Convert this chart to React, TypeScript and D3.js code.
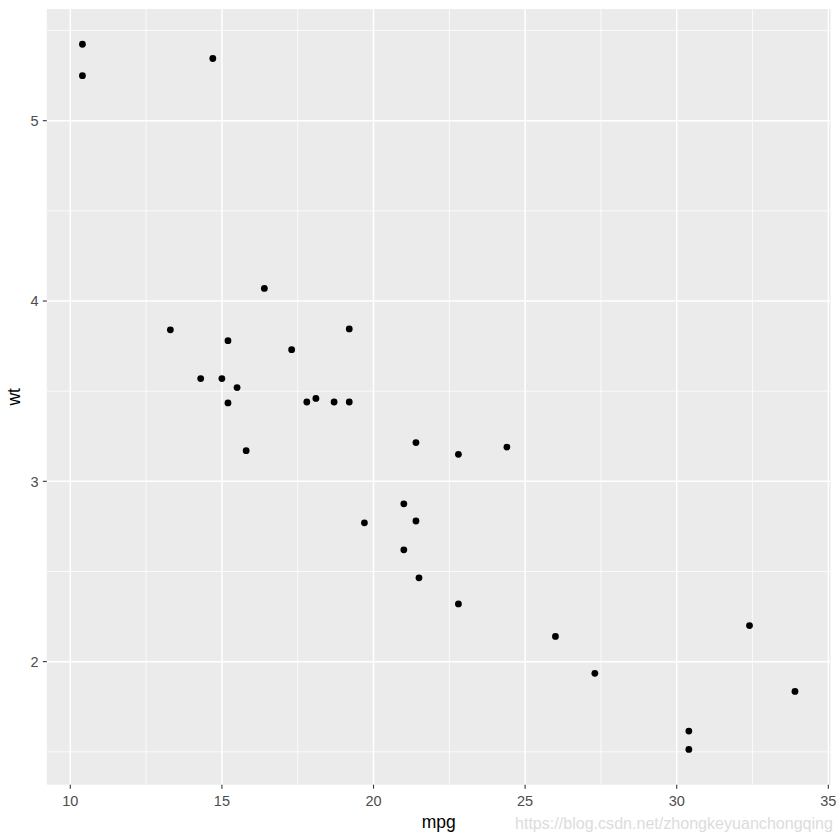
import { useRef, useEffect } from "react";
import * as d3 from "d3";

const mpg = [21.0, 21.0, 22.8, 21.4, 18.7, 18.1, 14.3, 24.4, 22.8, 19.2, 17.8, 16.4, 17.3, 15.2, 10.4, 10.4,
    14.7, 32.4, 30.4, 33.9, 21.5, 15.5, 15.2, 13.3, 19.2, 27.3, 26.0, 30.4, 15.8, 19.7, 15.0, 21.4];
const wt = [2.620, 2.875, 2.320, 3.215, 3.440, 3.460, 3.570, 3.190, 3.150, 3.440, 3.440, 4.070, 3.730, 3.780,
    5.250, 5.424, 5.345, 2.200, 1.615, 1.835, 2.465, 3.520, 3.435, 3.840, 3.845, 1.935, 2.140, 1.513, 3.170,
    2.770, 3.570, 2.780];

const x_ticks = [10, 15, 20, 25, 30, 35];
const x_minor = [12.5, 17.5, 22.5, 27.5, 32.5];
const y_ticks = [2, 3, 4, 5];
const y_minor = [1.5, 2.5, 3.5, 4.5, 5.5];

const svg_width = 840;
const svg_height = 840;
const panel = { left: 46.8, right: 830.6, top: 9, bottom: 784.7 };

const expand = (v: number[]): [number, number] => {
    const [lo, hi] = d3.extent(v) as [number, number];
    const pad = (hi - lo) * 0.05;
    return [lo - pad, hi + pad];
};

export default function App() {
    const ref = useRef(null);

    useEffect(() => {
        document.body.style.margin = "0";
        const destroy = () => {
            d3.select(ref.current).selectAll("*").remove();
        };

        const x = d3.scaleLinear().domain(expand(mpg)).range([panel.left, panel.right]);
        const y = d3.scaleLinear().domain(expand(wt)).range([panel.bottom, panel.top]);

        const svg = d3.select(ref.current)
            .append("svg")
                .attr("width", svg_width)
                .attr("height", svg_height)
                .style("display", "block")
                .style("background-color", "white")
                .style("font-family", "'Liberation Sans', Arial, sans-serif");

        svg.append("rect")
            .attr("x", panel.left)
            .attr("y", panel.top)
            .attr("width", panel.right - panel.left)
            .attr("height", panel.bottom - panel.top)
            .attr("fill", "#EBEBEB");

        const grid = svg.append("g").attr("stroke", "white").attr("fill", "none");

        grid.selectAll(".xminor").data(x_minor).join("line")
            .attr("x1", d => x(d)).attr("x2", d => x(d))
            .attr("y1", panel.top).attr("y2", panel.bottom)
            .attr("stroke-width", 0.75);
        grid.selectAll(".yminor").data(y_minor).join("line")
            .attr("y1", d => y(d)).attr("y2", d => y(d))
            .attr("x1", panel.left).attr("x2", panel.right)
            .attr("stroke-width", 0.75);
        grid.selectAll(".xmajor").data(x_ticks).join("line")
            .attr("x1", d => x(d)).attr("x2", d => x(d))
            .attr("y1", panel.top).attr("y2", panel.bottom)
            .attr("stroke-width", 1.5);
        grid.selectAll(".ymajor").data(y_ticks).join("line")
            .attr("y1", d => y(d)).attr("y2", d => y(d))
            .attr("x1", panel.left).attr("x2", panel.right)
            .attr("stroke-width", 1.5);

        svg.append("g")
            .selectAll("circle")
            .data(mpg.map((m, i) => [m, wt[i]]))
            .join("circle")
                .attr("cx", d => x(d[0]))
                .attr("cy", d => y(d[1]))
                .attr("r", 3.4)
                .attr("fill", "black");

        // axes
        const xAxis = svg.append("g");
        xAxis.selectAll("line").data(x_ticks).join("line")
            .attr("x1", d => x(d)).attr("x2", d => x(d))
            .attr("y1", panel.bottom).attr("y2", panel.bottom + 4)
            .attr("stroke", "#333333").attr("stroke-width", 1.1);
        xAxis.selectAll("text").data(x_ticks).join("text")
            .attr("x", d => x(d))
            .attr("y", 806)
            .attr("text-anchor", "middle")
            .attr("font-size", 14.5)
            .attr("fill", "#4D4D4D")
            .text(d => d);

        const yAxis = svg.append("g");
        yAxis.selectAll("line").data(y_ticks).join("line")
            .attr("y1", d => y(d)).attr("y2", d => y(d))
            .attr("x1", panel.left - 4).attr("x2", panel.left)
            .attr("stroke", "#333333").attr("stroke-width", 1.1);
        yAxis.selectAll("text").data(y_ticks).join("text")
            .attr("x", 38.5)
            .attr("y", d => y(d) + 5.3)
            .attr("text-anchor", "end")
            .attr("font-size", 14.5)
            .attr("fill", "#4D4D4D")
            .text(d => d);

        svg.append("text")
            .attr("x", (panel.left + panel.right) / 2)
            .attr("y", 828)
            .attr("text-anchor", "middle")
            .attr("font-size", 17.5)
            .attr("fill", "black")
            .text("mpg");

        svg.append("text")
            .attr("transform", `translate(19.5, ${(panel.top + panel.bottom) / 2}) rotate(-90)`)
            .attr("text-anchor", "middle")
            .attr("font-size", 17.5)
            .attr("fill", "black")
            .text("wt");

        svg.append("text")
            .attr("x", 515)
            .attr("y", 829)
            .attr("font-size", 16)
            .attr("textLength", 318)
            .attr("lengthAdjust", "spacingAndGlyphs")
            .attr("fill", "#DCDCDC")
            .text("https://blog.csdn.net/zhongkeyuanchongqing");

        return destroy;
    }, [ref]);

    return (
        <div ref={ref} />
    );
}
